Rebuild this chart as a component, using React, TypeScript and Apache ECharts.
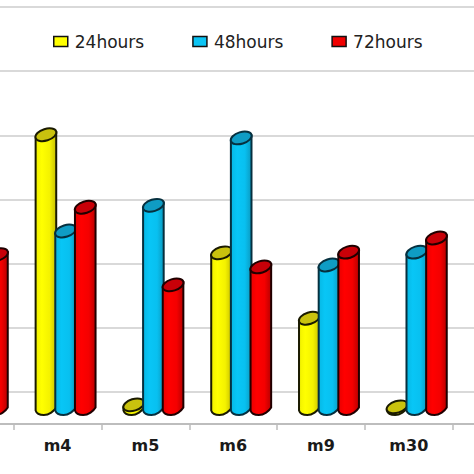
import React, { useEffect, useRef } from "react";
import * as echarts from "echarts";

const categories = ["", "m4", "m5", "m6", "m9", "m30", ""];
const seriesNames = ["24hours", "48hours", "72hours"];
const hours24: [number, number][] = [[1, 4.29], [2, 0.08], [3, 2.45], [4, 1.43], [5, 0.05]];
const hours48: [number, number][] = [[1, 2.79], [2, 3.19], [3, 4.24], [4, 2.26], [5, 2.46]];
const hours72: [number, number][] = [[0, 2.42], [1, 3.16], [2, 1.95], [3, 2.23], [4, 2.46], [5, 2.68]];

const palettes = [
  { legend: "#ffff00", top: "#c9c20e", stops: ["#f0f000", "#ffff00", "#f4f200", "#c8c000"], line: "#1a1a00" },
  { legend: "#0cc4f4", top: "#0f9cc4", stops: ["#06b8e4", "#08c6f6", "#08c0f0", "#0b9ac0"], line: "#06303f" },
  { legend: "#f00000", top: "#c80008", stops: ["#e80000", "#ff0000", "#f40000", "#b80000"], line: "#200000" },
];

function makeRender(seriesIndex: number) {
  const p = palettes[seriesIndex];
  return (_params: any, api: any) => {
    const cat = api.value(0);
    const val = api.value(1);
    const base = api.coord([cat, 0]);
    const top = api.coord([cat, val]);
    const band = api.size([1, 0])[0];
    const cx = base[0] + band * 0.091 + (seriesIndex - 1) * band * 0.224;
    const y0 = base[1] + 18;
    const yT = top[1] + 18;
    const w = 10.3;
    const d =
      `M${cx - w} ${yT + 2.5} L${cx - w} ${y0 + 0.5} ` +
      `C${cx - w + 1} ${y0 + 4} ${cx - 5} ${y0 + 5} ${cx - 2} ${y0 + 5} ` +
      `C${cx + 3} ${y0 + 5} ${cx + w - 2} ${y0 + 1} ${cx + w} ${y0 - 2.5} ` +
      `L${cx + w} ${yT - 2.5} Z`;
    const gradient = new echarts.graphic.LinearGradient(0, 0, 1, 0, [
      { offset: 0, color: p.stops[0] },
      { offset: 0.3, color: p.stops[1] },
      { offset: 0.68, color: p.stops[2] },
      { offset: 1, color: p.stops[3] },
    ]);
    return {
      type: "group",
      children: [
        { type: "path", shape: { pathData: d }, style: { fill: gradient, stroke: p.line, lineWidth: 2 } },
        {
          type: "ellipse",
          x: cx,
          y: yT,
          rotation: 0.3,
          shape: { cx: 0, cy: 0, rx: 10.8, ry: 5.8 },
          style: { fill: p.top, stroke: p.line, lineWidth: 2 },
        },
      ],
    };
  };
}

const allData = [hours24, hours48, hours72];

export default function App() {
  const ref = useRef<HTMLDivElement>(null);
  useEffect(() => {
    const chart = echarts.init(ref.current!, undefined, { renderer: "svg" });
    chart.setOption({
      animation: false,
      backgroundColor: "#ffffff",
      legend: {
        left: 48,
        top: 28,
        itemWidth: 14,
        itemHeight: 10,
        itemGap: 48,
        icon: "rect",
        data: seriesNames,
        itemStyle: { borderColor: "#111111", borderWidth: 1.5 },
        textStyle: { fontFamily: "DejaVu Sans", fontSize: 17, color: "#222222", padding: [0, 0, 0, 2] },
      },
      grid: { left: -74.1, right: -66.5, top: 7, bottom: 82, outerBoundsMode: "none" },
      xAxis: {
        type: "category",
        data: categories,
        offset: 32,
        axisLine: { onZero: false, lineStyle: { color: "#bdbdbd", width: 2 } },
        axisTick: { show: true, length: 6, lineStyle: { color: "#bdbdbd", width: 1.5 } },
        axisLabel: {
          interval: 0,
          margin: 13,
          fontFamily: "DejaVu Sans",
          fontWeight: "bold",
          fontSize: 16,
          color: "#1a1a1a",
        },
      },
      yAxis: {
        type: "value",
        min: 0,
        max: 6,
        interval: 1,
        axisLine: { show: false },
        axisTick: { show: false },
        axisLabel: { show: false },
        splitLine: { show: true, lineStyle: { color: "#cccccc", width: 1.5 } },
      },
      series: seriesNames.map((name, i) => ({
        type: "custom",
        name,
        data: allData[i],
        encode: { x: 0, y: 1 },
        itemStyle: { color: palettes[i].legend },
        renderItem: makeRender(i),
        clip: false,
      })),
    });
    return () => chart.dispose();
  }, []);
  return <div ref={ref} style={{ position: "fixed", left: 0, top: 0, width: 474, height: 474 }} />;
}
